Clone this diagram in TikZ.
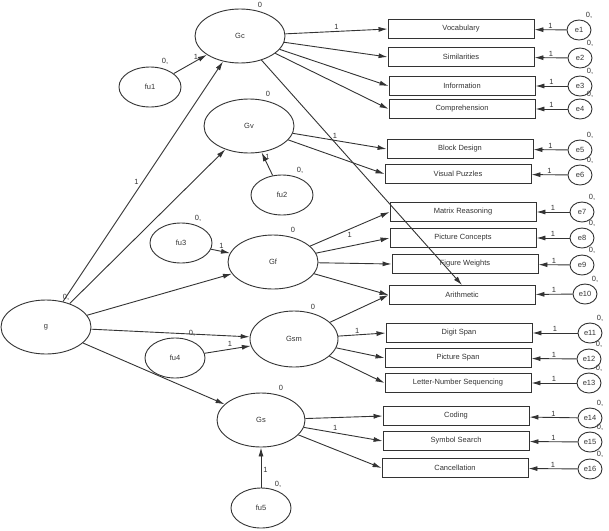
\documentclass[tikz,border=0pt]{standalone}
\usepackage{fontspec}
\setmainfont{Liberation Sans}
\usetikzlibrary{shapes.geometric,arrows.meta}
\begin{document}
\begin{tikzpicture}[x=1pt,y=-1pt,
  every node/.style={font=\fontsize{7.5}{9}\selectfont, text=black!80},
  lat/.style={ellipse,draw=black!80,line width=0.9pt,minimum width=90pt,minimum height=54pt,inner sep=0pt},
  dist/.style={ellipse,draw=black!80,line width=0.9pt,minimum width=62pt,minimum height=40pt,inner sep=0pt},
  obs/.style={rectangle,draw=black!80,line width=0.9pt,minimum width=146pt,minimum height=19pt,inner sep=0pt},
  err/.style={ellipse,draw=black!80,line width=0.9pt,minimum width=24pt,minimum height=20pt,inner sep=0pt},
  arr/.style={draw=black!80,line width=0.9pt,-{Latex[length=9pt,width=5pt]}},
  lab/.style={inner sep=0pt}]
\useasboundingbox (0,0) rectangle (609,530);
% latent
\node[lat] (g) at (46,327) {g};
\node[lat] (Gc) at (240,36) {Gc};
\node[lat] (Gv) at (249,126) {Gv};
\node[lat] (Gf) at (273,262) {Gf};
\node[lat,minimum width=88pt,minimum height=56pt] (Gsm) at (294,339) {Gsm};
\node[lat,minimum width=88pt] (Gs) at (261,420) {Gs};
\node[dist] (fu1) at (150,87) {fu1};
\node[dist] (fu2) at (282,195) {fu2};
\node[dist] (fu3) at (181,243) {fu3};
\node[dist,minimum width=60pt] (fu4) at (175,358) {fu4};
\node[dist,minimum width=60pt] (fu5) at (261,508) {fu5};
\node[lab] (z1) at (260,5) {0};
\node[lab] (z2) at (268,94) {0};
\node[lab] (z3) at (293,230) {0};
\node[lab] (z4) at (313,307) {0};
\node[lab] (z5) at (281,388) {0};
\node[lab] (zg) at (66,297) {0,};
\node[lab] (zf1) at (165,61) {0,};
\node[lab] (zf2) at (300,170) {0,};
\node[lab] (zf3) at (198,218) {0,};
\node[lab] (zf4) at (192,333) {0,};
\node[lab] (zf5) at (278,484) {0,};
% observed
\foreach \n/\x/\y/\t/\ex/\ey in {
 1/461/29/Vocabulary/579/30, 2/461/57/Similarities/580/58, 3/462/86/Information/580/86,
 4/462/109/Comprehension/580/109, 5/460/149/Block Design/580/150, 6/458/174/Visual Puzzles/580/175,
 7/463/212/Matrix Reasoning/582/212, 8/463/238/Picture Concepts/582/238, 9/465/264/Figure Weights/582/265,
 10/462/295/Arithmetic/585/294, 11/459/333/Digit Span/590/333, 12/458/358/Picture Span/589/359,
 13/458/383/Letter-Number Sequencing/589/383, 14/456/416/Coding/590/418, 15/456/441/Symbol Search/590/442,
 16/455/468/Cancellation/590/469}{
 \node[obs] (v\n) at (\x,\y) {\t};
 \node[err] (e\n) at (\ex,\ey) {e\n};
 \draw[arr] (e\n) -- node[lab,pos=0.5,above=1pt] {1} (v\n);
 \node[lab] at (\ex+10,\ey-15) {0,};
}
% structural paths
\draw[arr] (g) -- node[lab,pos=0.5,left=4pt] {1} (Gc);
\draw[arr] (g) -- (Gv);
\draw[arr] (g) -- (Gf);
\draw[arr] (g) -- (Gsm);
\draw[arr] (g) -- (Gs);
\draw[arr] (fu1) -- node[lab,pos=0.75,above left=0pt] {1} (Gc);
\draw[arr] (fu2) -- node[lab,pos=0.8,right=1pt] {1} (Gv);
\draw[arr] (fu3) -- node[lab,pos=0.55,above=2pt] {1} (Gf);
\draw[arr] (fu4) -- node[lab,pos=0.55,above=2pt] {1} (Gsm);
\draw[arr] (fu5) -- node[lab,pos=0.45,right=2pt] {1} (Gs);
% loadings
\draw[arr] (Gc) -- node[lab,pos=0.5,above=1pt] {1} (v1.west);
\draw[arr] (Gc) -- (v2.west);
\draw[arr] (Gc) -- (v3.west);
\draw[arr] (Gc) -- (v4.west);
\draw[arr] (Gc) -- (v10.north);
\draw[arr] (Gv) -- node[lab,pos=0.45,above=1pt] {1} (v5.west);
\draw[arr] (Gv) -- (v6.west);
\draw[arr] (Gf) -- node[lab,pos=0.5,below=3pt] {1} (v7.west);
\draw[arr] (Gf) -- (v8.west);
\draw[arr] (Gf) -- (v9.west);
\draw[arr] (Gf) -- (v10.west);
\draw[arr] (Gsm) -- (v10.west);
\draw[arr] (Gsm) -- node[lab,pos=0.4,above=1pt] {1} (v11.west);
\draw[arr] (Gsm) -- (v12.west);
\draw[arr] (Gsm) -- (v13.west);
\draw[arr] (Gs) -- (v14.west);
\draw[arr] (Gs) -- node[lab,pos=0.4,above=2pt] {1} (v15.west);
\draw[arr] (Gs) -- (v16.west);
\end{tikzpicture}
\end{document}
